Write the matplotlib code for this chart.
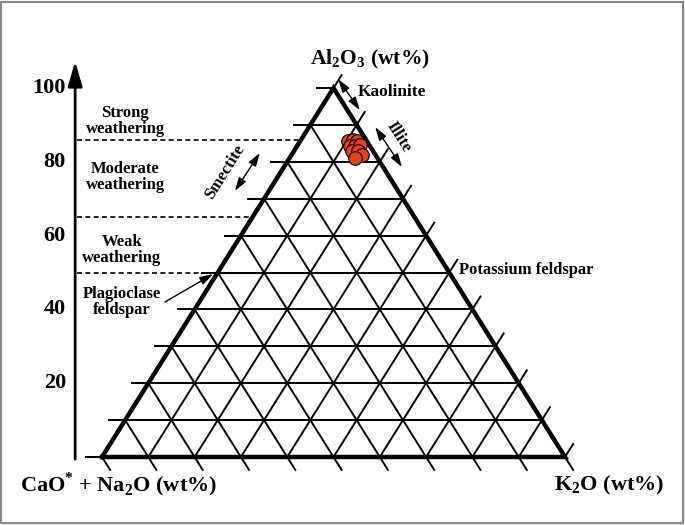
"""
A-CN-K ternary diagram with weathering zones (CIA scale on the left)
"""

import numpy as np
import matplotlib.pyplot as plt
from matplotlib.patches import Rectangle

plt.rcParams['font.family'] = ['Liberation Serif', 'DejaVu Serif']
plt.rcParams['font.weight'] = 'bold'

AL2O3 = [85.6, 85.9, 85.6, 84.3, 84.3, 84.6, 82.9, 82.9, 81.8, 81.0]
K2O = [10.3, 11.3, 12.3, 11.4, 12.5, 13.4, 12.5, 13.9, 15.3, 14.1]
CN = [100 - a - k for a, k in zip(AL2O3, K2O)]

# Left scale ticks and weathering limits (Al2O3 wt%)
SCALE_TICKS = [20, 40, 60, 80, 100]
ZONE_LIMITS = [50, 65, 86]
GRID = np.arange(0, 101, 10)

# Length of grid ticks sticking out of the triangle (fraction of edge)
EXT = 0.035
SMALL = 12
BIG = 16


def tern(a, k):
    """
    Convert Al2O3 and K2O percentages to cartesian coordinates

    Base of triangle runs 0..1 in x, apex at (0.5, 1)
    """
    a = np.asarray(a, dtype=float) / 100
    k = np.asarray(k, dtype=float) / 100
    return k + a / 2, a


fig = plt.figure(figsize=(6.85, 5.25), dpi=100)
ax = fig.add_axes([0, 0, 1, 1])
ax.set_xlim(-102 / 463, 583 / 463)
ax.set_ylim(-68 / 369, 457 / 369)
ax.axis('off')

# Grid lines, each family sticks out of one edge
for g in GRID:
    f = g / 100
    # constant Al2O3, out past the left edge
    ax.plot([f / 2 - EXT, 1 - f / 2], [f, f], color='k', lw=1.4)
    # constant K2O, out past the right edge
    ax.plot([f, f + (1 - f) / 2 + EXT / 2], [0, 1 - f + EXT], color='k', lw=1.4)
    # constant CaO+Na2O, out past the base
    c = 1 - f
    ax.plot([c / 2, c + EXT / 2], [c, -EXT], color='k', lw=1.4)

# Outer triangle
ax.plot([0, 1, 0.5, 0], [0, 0, 1, 0], color='k', lw=3.2,
        solid_joinstyle='miter', zorder=3)

# Samples
sx, sy = tern(AL2O3, K2O)
ax.scatter(sx, sy, s=95, c='#E8401C', edgecolors='k', linewidths=0.8, zorder=5)

# Left scale with arrow
xs = -0.058
ax.annotate('', xy=(xs, 1.072), xytext=(xs, -0.006),
            arrowprops=dict(arrowstyle='-|>,head_length=0.75,head_width=0.22',
                            mutation_scale=20, lw=2, color='k',
                            shrinkA=0, shrinkB=0))
for t in SCALE_TICKS:
    ax.text(-0.078, t / 100, str(t), ha='right', va='center', fontsize=BIG)

# Weathering limits
for lim in ZONE_LIMITS:
    ax.plot([xs + 0.004, lim / 200], [lim / 100, lim / 100], color='k',
            lw=1.2, dashes=(3, 2))

ax.text(0.050, 0.911, 'Strong\nweathering', ha='center', va='center',
        fontsize=SMALL, linespacing=1.05)
ax.text(0.050, 0.759, 'Moderate\nweathering', ha='center', va='center',
        fontsize=SMALL, linespacing=1.05)
ax.text(0.043, 0.561, 'Weak\nweathering', ha='center', va='center',
        fontsize=SMALL, linespacing=1.05)
ax.text(0.043, 0.420, 'Plagioclase\nfeldspar', ha='center', va='center',
        fontsize=SMALL, linespacing=1.05)
ax.annotate('', xy=(0.240, 0.496), xytext=(0.136, 0.420),
            arrowprops=dict(arrowstyle='-|>,head_length=0.8,head_width=0.25',
                            mutation_scale=10, lw=1, color='k',
                            shrinkA=0, shrinkB=0))

# Clay mineral arrows
dbl = dict(arrowstyle='<|-|>,head_length=0.8,head_width=0.25',
           mutation_scale=10, lw=1, color='k', shrinkA=0, shrinkB=0)
ax.annotate('', xy=(0.510, 1.024), xytext=(0.557, 0.940), arrowprops=dbl)
ax.annotate('', xy=(0.590, 0.894), xytext=(0.648, 0.786), arrowprops=dbl)
ax.annotate('', xy=(0.341, 0.824), xytext=(0.287, 0.721), arrowprops=dbl)

ax.text(0.553, 0.989, 'Kaolinite', ha='left', va='center', fontsize=12.5)
ax.text(0.640, 0.867, 'Illite', ha='center', va='center', fontsize=SMALL,
        rotation=-58)
ax.text(0.265, 0.772, 'Smectite', ha='center', va='center', fontsize=SMALL,
        rotation=58)
ax.text(0.771, 0.507, 'Potassium feldspar', ha='left', va='center',
        fontsize=SMALL)

# Apex labels
ax.text(0.579, 1.076, r'Al$_{\mathregular{2}}$O$_{\mathregular{3}}$ (wt%)',
        ha='center', va='center', fontsize=15.5)
ax.text(-0.177, -0.076,
        r'CaO$^{\mathregular{*}}$ + Na$_{\mathregular{2}}$O (wt%)',
        ha='left', va='center', fontsize=BIG)
ax.text(0.976, -0.076, r'K$_{\mathregular{2}}$O (wt%)', ha='left',
        va='center', fontsize=BIG)

# Grey frame round the picture
fig.patches.append(Rectangle((0.002, 0.003), 0.995, 0.993,
                             transform=fig.transFigure, fill=False,
                             ec='#888888', lw=1.5))

fig.savefig('out.png', dpi=100)
